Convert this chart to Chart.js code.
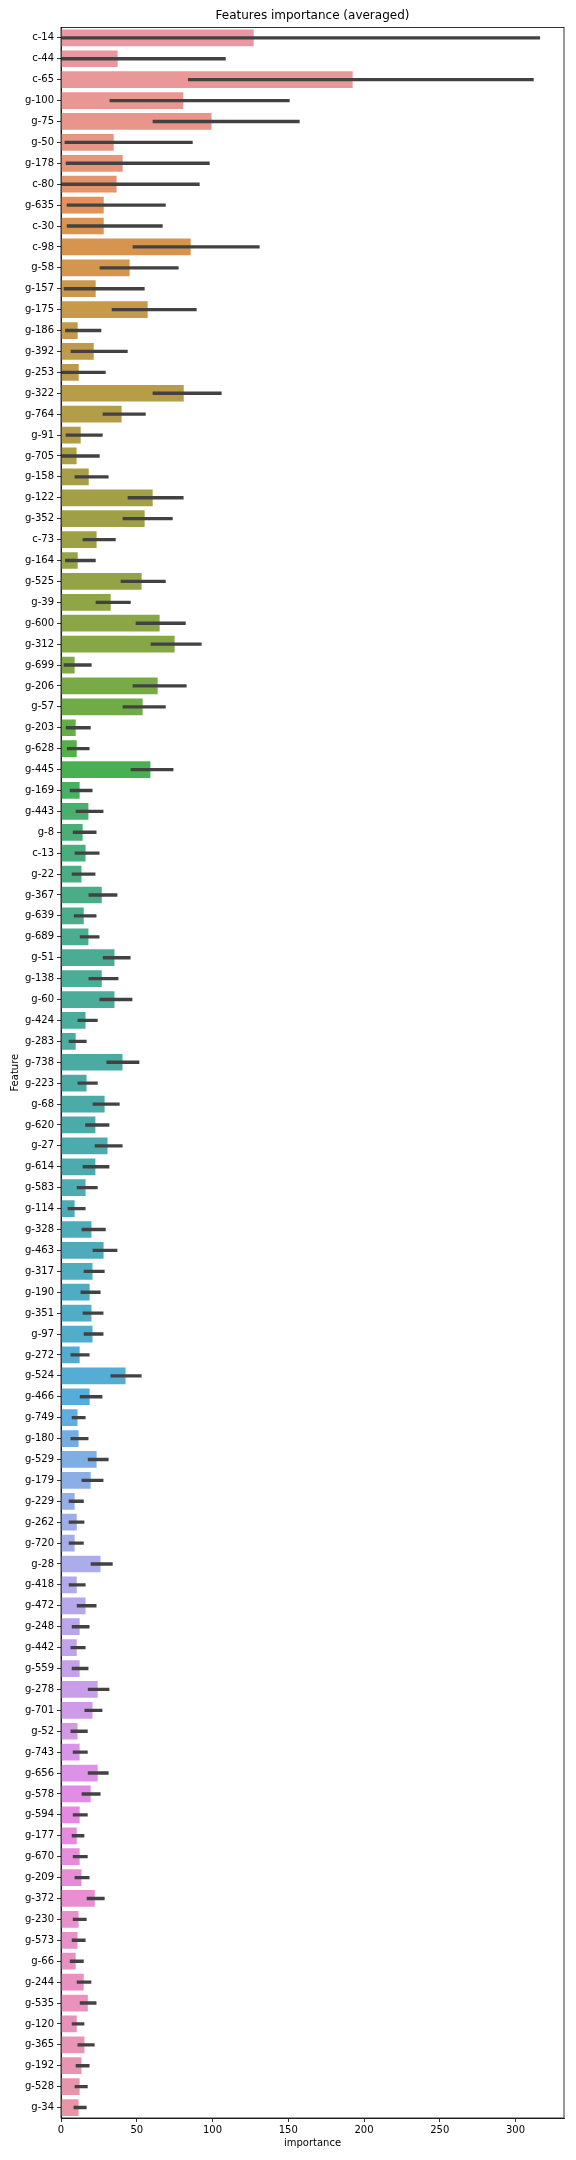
<!DOCTYPE html>
<html><head><meta charset="utf-8">
<script src="https://cdn.jsdelivr.net/npm/chart.js@4.4.1/dist/chart.umd.min.js"></script>
<style>html,body{margin:0;padding:0;background:#fff}canvas{display:block}</style>
</head><body>
<canvas id="c" width="576" height="2160"></canvas>
<script>
const features=["c-14","c-44","c-65","g-100","g-75","g-50","g-178","c-80","g-635","c-30","c-98","g-58","g-157","g-175","g-186","g-392","g-253","g-322","g-764","g-91","g-705","g-158","g-122","g-352","c-73","g-164","g-525","g-39","g-600","g-312","g-699","g-206","g-57","g-203","g-628","g-445","g-169","g-443","g-8","c-13","g-22","g-367","g-639","g-689","g-51","g-138","g-60","g-424","g-283","g-738","g-223","g-68","g-620","g-27","g-614","g-583","g-114","g-328","g-463","g-317","g-190","g-351","g-97","g-272","g-524","g-466","g-749","g-180","g-529","g-179","g-229","g-262","g-720","g-28","g-418","g-472","g-248","g-442","g-559","g-278","g-701","g-52","g-743","g-656","g-578","g-594","g-177","g-670","g-209","g-372","g-230","g-573","g-66","g-244","g-535","g-120","g-365","g-192","g-528","g-34"];
const importance=[127.2,37.4,192.5,80.7,99.4,34.8,40.7,36.7,28.2,28.2,85.6,45.3,22.9,57.2,11.0,21.6,11.7,81.0,40.0,13.0,10.3,18.3,60.5,55.2,23.5,11.0,53.2,32.8,65.1,75.0,9.0,63.8,53.9,9.7,10.4,59.0,12.3,18.1,14.3,16.2,13.5,26.9,15.0,18.1,35.3,26.9,35.3,16.2,9.7,40.6,16.9,28.8,22.7,30.7,22.7,16.2,9.0,20.1,28.1,20.8,18.9,20.1,20.8,12.3,42.6,18.9,10.9,11.6,23.5,19.6,9.0,10.4,9.0,26.1,10.4,16.2,12.3,10.4,12.3,24.2,20.8,10.9,12.3,24.2,19.6,12.3,10.4,12.3,13.5,22.3,11.6,10.9,9.7,15.0,17.7,10.4,15.5,13.5,12.3,11.6];
const ciLow=[0.5,0.3,84.0,32.3,60.7,2.6,3.3,0.3,4.0,4.0,47.5,25.7,2.0,33.7,2.9,6.6,0.3,60.7,27.7,3.3,0.3,9.2,44.2,40.9,14.5,2.9,39.6,23.1,49.5,59.4,2.0,47.5,40.9,3.4,4.1,46.2,6.0,9.9,8.0,9.2,7.3,18.4,8.7,12.6,27.8,18.4,25.6,11.1,5.3,30.2,11.1,21.1,16.2,22.5,14.5,10.6,4.6,13.8,21.1,15.2,13.1,14.5,15.2,6.5,32.9,12.6,7.3,6.5,17.9,13.8,5.3,5.3,5.3,19.8,5.3,10.6,7.3,6.5,7.3,17.9,15.7,6.5,8.0,17.9,13.8,8.0,7.3,8.0,9.2,17.2,8.0,7.3,6.0,10.6,12.6,7.3,11.1,9.9,9.2,8.5];
const ciHigh=[316.0,108.5,311.8,150.7,157.3,86.7,97.9,91.3,68.9,66.9,130.9,77.4,55.0,89.3,26.4,43.8,29.3,105.8,55.7,27.3,25.3,31.2,80.7,73.5,35.9,22.7,68.9,45.8,82.1,92.6,20.0,82.7,68.9,19.4,18.6,74.0,20.6,27.8,23.2,25.2,22.5,37.0,23.2,25.2,45.7,37.7,46.9,24.0,16.7,51.5,24.0,38.5,31.7,40.4,31.7,24.0,16.0,29.3,37.0,28.6,25.9,27.8,27.8,18.6,53.0,27.1,16.0,17.9,31.2,27.8,14.8,15.2,14.8,33.9,16.0,23.2,18.6,16.0,17.9,31.7,27.1,17.4,17.4,31.2,25.9,17.4,15.2,17.4,18.6,28.6,16.7,16.0,14.8,19.8,23.2,15.2,22.0,18.6,17.4,16.7];
const xTicks=[0,50,100,150,200,250,300];
const xMax=332;

// seaborn husl palette (l=.7) desaturated to 0.75
function huslRGB(H,S,L){
  const m=[[3.2406,-1.5372,-0.4986],[-0.9689,1.8758,0.0415],[0.0557,-0.2040,1.0570]];
  const refU=0.19784,refV=0.46834,kappa=903.3,eps=0.008856;
  const hr=H*Math.PI/180,sH=Math.sin(hr),cH=Math.cos(hr);
  const sub1=Math.pow(L+16,3)/1560896,sub2=sub1>eps?sub1:L/kappa;
  let mx=Infinity;
  for(const [m1,m2,m3] of m){
    const top=(0.99915*m1+1.05122*m2+1.14460*m3)*sub2;
    const rb=0.86330*m3-0.17266*m2,lb=0.12949*m3-0.38848*m1;
    const bottom=(rb*sH+lb*cH)*sub2;
    for(const t of [0,1]){const C=L*(top-1.05122*t)/(bottom+0.17266*sH*t);if(C>0&&C<mx)mx=C;}
  }
  const C=mx/100*S,U=Math.cos(hr)*C,V=Math.sin(hr)*C;
  const ft=(L+16)/116;const Y=Math.pow(ft,3)>eps?Math.pow(ft,3):(116*ft-16)/kappa;
  const vU=U/(13*L)+refU,vV=V/(13*L)+refV;
  const X=-(9*Y*vU)/((vU-4)*vV-vU*vV);
  const Z=(9*Y-15*vV*Y-vV*X)/(3*vV);
  return m.map(r=>{let c=r[0]*X+r[1]*Y+r[2]*Z;c=c<=0.0031308?12.92*c:1.055*Math.pow(c,1/2.4)-0.055;return Math.min(1,Math.max(0,c));});
}
function desatCSS(rgb,f){
  const [r,g,b]=rgb;const mx=Math.max(r,g,b),mn=Math.min(r,g,b);const l=(mx+mn)/2;
  let h=0,s=0;
  if(mx!==mn){const d=mx-mn;s=l<=0.5?d/(mx+mn):d/(2-mx-mn);
    const rc=(mx-r)/d,gc=(mx-g)/d,bc=(mx-b)/d;
    if(r===mx)h=bc-gc;else if(g===mx)h=2+rc-bc;else h=4+gc-rc;h=((h/6)%1+1)%1;}
  return `hsl(${(h*360).toFixed(2)},${(s*f*100).toFixed(2)}%,${(l*100).toFixed(2)}%)`;
}
const n=features.length;
const barColors=features.map((f,i)=>{let h=(i/n+0.01)%1;return desatCSS(huslRGB(h*359,0.9*99,0.7*99),0.75);});

const frame={id:'frame',afterDraw(chart){const {ctx,chartArea:a}=chart;ctx.save();ctx.strokeStyle='#000';ctx.lineWidth=0.8;ctx.strokeRect(a.left,a.top,a.right-a.left,a.bottom-a.top);ctx.restore();}};

const FONT="'DejaVu Sans', sans-serif";
new Chart(document.getElementById('c'),{
  type:'bar',
  data:{labels:features,datasets:[
    {label:'ci',data:features.map((f,i)=>[ciLow[i],ciHigh[i]]),backgroundColor:'#424242',barThickness:2.7,grouped:false,order:0},
    {label:'importance',data:importance,backgroundColor:barColors,barPercentage:0.8,categoryPercentage:1.0,grouped:false,order:1}
  ]},
  options:{
    indexAxis:'y',responsive:false,animation:false,devicePixelRatio:1,
    layout:{padding:{left:0,right:12,top:0,bottom:0}},
    plugins:{legend:{display:false},tooltip:{enabled:false},
      title:{display:true,fullSize:false,text:'Features importance (averaged)',color:'#000',font:{family:FONT,size:12,weight:'normal',lineHeight:1.2},padding:{top:9,bottom:4}}},
    scales:{
      x:{type:'linear',min:0,max:xMax,
        afterBuildTicks:s=>{s.ticks=xTicks.map(v=>({value:v}));},
        afterFit:s=>{s.height=42;},
        ticks:{color:'#000',font:{family:FONT,size:10},padding:2,maxRotation:0,autoSkip:false},
        grid:{display:true,drawOnChartArea:false,drawTicks:true,tickLength:4,color:'#000',lineWidth:0.8},
        border:{display:true,color:'#000',width:0.8},
        title:{display:true,text:'importance',color:'#000',font:{family:FONT,size:10},padding:{top:2,bottom:11}}},
      y:{type:'category',offset:true,
        afterFit:s=>{s.width=61;},
        ticks:{color:'#000',font:{family:FONT,size:10},padding:3,autoSkip:false},
        grid:{display:true,offset:false,drawOnChartArea:false,drawTicks:true,tickLength:4,color:'#000',lineWidth:0.8},
        border:{display:true,color:'#000',width:0.8},
        title:{display:true,text:'Feature',color:'#000',font:{family:FONT,size:10},padding:{top:9,bottom:0}}}
    }
  },
  plugins:[frame]
});
</script>
</body></html>
